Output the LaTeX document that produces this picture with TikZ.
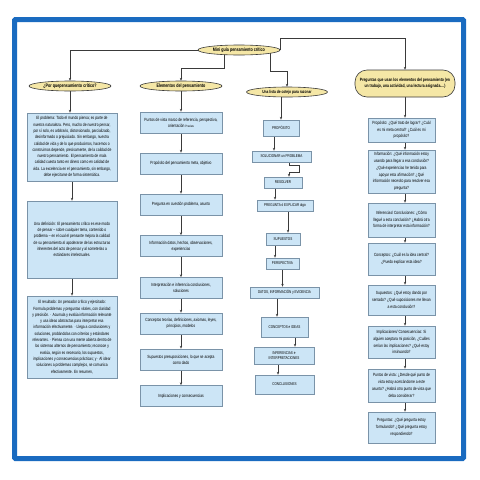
\documentclass[tikz,border=0pt]{standalone}
\usepackage{fontspec}
\setmainfont{Liberation Sans}
\newfontfamily\nar[FakeStretch=0.74]{Liberation Sans}
\usetikzlibrary{arrows.meta,backgrounds,calc,shapes.geometric}
\definecolor{framec}{HTML}{1A6BC0}
\definecolor{boxf}{HTML}{CCE5F6}
\definecolor{boxd}{HTML}{7A93A8}
\definecolor{ellf}{HTML}{F5E7A6}
\definecolor{lnc}{HTML}{3A3A3A}
\tikzset{
 box/.style={rectangle, fill=boxf, draw=boxd, line width=0.7pt, inner sep=0pt, align=center, font=\nar\fontsize{4.5}{6.3}\selectfont},
 boxq/.style={box, minimum width=67pt, font=\nar\fontsize{4.5}{6.8}\selectfont},
 boxe/.style={box, minimum width=82pt, minimum height=21pt, font=\nar\fontsize{4.5}{6.2}\selectfont},
 boxc/.style={box, font=\nar\fontsize{4.1}{5.6}\selectfont},
 ell/.style={ellipse, fill=ellf, draw=lnc, line width=0.6pt, inner xsep=-6pt, inner ysep=0pt, minimum height=10pt, align=center, font=\nar\bfseries\fontsize{5}{6}\selectfont},
 con/.style={draw=lnc, line width=0.5pt, -{Stealth[length=2.8pt,width=2.4pt]}},
}
\begin{document}
\begin{tikzpicture}[x=1pt,y=-1pt]
\useasboundingbox (0,0) rectangle (480,480);

% ellipses
\node[ell, minimum width=82pt] (main) at (239,50) {Mini guía pensamiento crítico};
\node[ell, minimum width=82pt] (e1) at (70,86) {¿Por quepensamiento crítico?};
\node[ell, minimum width=82pt] (e2) at (181,86) {Elementos del pensamiento};
\node[ell, minimum width=81pt, font=\nar\bfseries\fontsize{4.4}{5.5}\selectfont] (e3) at (287,92) {Una lista de cotejo para razonar};
\node[rectangle, rounded corners=12pt, fill=ellf, draw=lnc, line width=0.6pt, inner sep=0pt, minimum width=100pt, minimum height=27pt, align=center, font=\nar\bfseries\fontsize{4.6}{6.2}\selectfont] (e4) at (405,83.5) {Preguntas que usan los elementos del pensamiento (en\\un trabajo, una actividad, una lectura asignada....)};

% column 1
\node[box, minimum width=90pt, minimum height=68pt] (c1a) at (72,147) {El problema: Todo el mundo piensa; es parte de\\nuestra naturaleza. Pero, mucho de nuestro pensar,\\por sí solo, es arbitrario, distorsionado, parcializado,\\desinformado o prejuiciado. Sin embargo, nuestra\\calidad de vida y de lo que producimos, hacemos o\\construimos depende, precisamente, de la calidad de\\nuestro pensamiento. El pensamiento de mala\\calidad cuesta tanto en dinero como en calidad de\\vida. La excelencia en el pensamiento, sin embargo,\\debe ejercitarse de forma sistemática.};
\node[box, minimum width=90pt, minimum height=77pt] (c1b) at (72,239.5) {Una definición: El pensamiento crítico es ese modo\\de pensar – sobre cualquier tema, contenido o\\problema – en el cual el pensante mejora la calidad\\de su pensamiento al apoderarse de las estructuras\\inherentes del acto de pensar y al someterlas a\\estándares intelectuales.};
\node[box, minimum width=90pt, minimum height=82pt] (c1c) at (72,337) {El resultado: Un pensador crítico y ejercitado:\\Formula problemas y preguntas vitales, con claridad\\y precisión. · Acumula y evalúa información relevante\\y usa ideas abstractas para interpretar esa\\información efectivamente. · Llega a conclusiones y\\soluciones, probándolas con criterios y estándares\\relevantes. · Piensa con una mente abierta dentro de\\los sistemas alternos de pensamiento; reconoce y\\evalúa, según es necesario, los supuestos,\\implicaciones y consecuencias prácticas; y · Al idear\\soluciones a problemas complejos, se comunica\\efectivamente. En resumen,};

% column 2
\node[boxe] (c2a) at (181,122.5) {Puntos de vista marco de referencia, perspectiva,\\orientación {\fontsize{3.2}{4}\selectfont Preview}};
\node[boxe] (c2b) at (181,163.5) {Propósito del pensamiento meta, objetivo};
\node[boxe] (c2c) at (181,204.5) {Pregunta en cuestión problema, asunto};
\node[boxe] (c2d) at (181,246) {Información datos, hechos, observaciones,\\experiencias};
\node[boxe] (c2e) at (181,288) {Interpretación e inferencia conclusiones,\\soluciones};
\node[boxe] (c2f) at (181,323.5) {Conceptos teorías, definiciones, axiomas, leyes,\\principios, modelos};
\node[boxe] (c2g) at (181,359.5) {Supuestos presuposiciones, lo que se acepta\\como dado};
\node[boxe] (c2h) at (181,396) {Implicaciones y consecuencias};

% column 3
\node[boxc, minimum width=36pt, minimum height=16pt] (p1) at (281,128) {PROPÓSITO};
\node[boxc, minimum width=59pt, minimum height=11pt] (p2) at (281.5,156.5) {SOLUCIONAR un PROBLEMA};
\node[boxc, minimum width=38pt, minimum height=11pt] (p3) at (283,182.5) {RESOLVER};
\node[boxc, minimum width=56pt, minimum height=11pt] (p4) at (285,205.5) {PREGUNTA ó EXPLICAR algo};
\node[boxc, minimum width=34pt, minimum height=12pt] (p5) at (283,239) {SUPUESTOS};
\node[boxc, minimum width=33pt, minimum height=11pt] (p6) at (282.5,263.5) {PERSPECTIVA};
\node[boxc, minimum width=69pt, minimum height=11pt] (p7) at (284.5,292.5) {DATOS, INFORMACIÓN y EVIDENCIA};
\node[boxc, minimum width=47pt, minimum height=20pt] (p8) at (284.5,327) {CONCEPTOS e IDEAS};
\node[boxc, minimum width=60pt, minimum height=17pt] (p9) at (284,355.5) {INFERENCIAS e\\INTERPRETACIONES};
\node[boxc, minimum width=59pt, minimum height=19pt] (p10) at (284.5,384.5) {CONCLUSIONES};

% column 4
\node[boxq, minimum height=24pt] (q1) at (401.5,130) {Propósito: ¿Qué trato de lograr? ¿Cuál\\es mi meta central? ¿Cuál es mi\\propósito?};
\node[boxq, minimum height=43pt] (q2) at (401.5,171.5) {Información: ¿Qué información estoy\\usando para llegar a esa conclusión?\\¿Qué experiencias he tenido para\\apoyar esta afirmación? ¿Qué\\información necesito para resolver esa\\pregunta?};
\node[boxq, minimum height=34pt] (q3) at (401.5,220) {Inferencias/ Conclusiones: ¿Cómo\\llegué a esta conclusión? ¿Habrá otra\\forma de interpretar esta información?};
\node[boxq, minimum height=32pt] (q4) at (401.5,259) {Conceptos: ¿Cuál es la idea central?\\¿Puedo explicar esta idea?};
\node[boxq, minimum height=30pt] (q5) at (401.5,300) {Supuestos: ¿Qué estoy dando por\\sentado? ¿Qué suposiciones me llevan\\a esta conclusión?};
\node[boxq, minimum height=32pt] (q6) at (401.5,342) {Implicaciones/ Consecuencias: Si\\alguien aceptara mi posición, ¿Cuáles\\serían las implicaciones? ¿Qué estoy\\insinuando?};
\node[boxq, minimum height=33pt] (q7) at (401.5,385.5) {Puntos de vista: ¿Desde qué punto de\\vista estoy acercándome a este\\asunto? ¿Habrá otro punto de vista que\\deba considerar?};
\node[boxq, minimum height=31pt] (q8) at (401.5,427.5) {Preguntas: ¿Qué pregunta estoy\\formulando? ¿Qué pregunta estoy\\respondiendo?};

\begin{pgfonlayer}{background}
\fill[white] (0,0) rectangle (480,480);
\draw[framec, line width=5pt, rounded corners=1pt] (14.5,19.5) rectangle (463.5,458.5);
% from main
\draw[con] (main.center) -| (e1.north);
\draw[con] ([xshift=-15pt]main.center) -- ++(0,18) -| (e2.north);
\draw[con] ([xshift=31pt]main.center) -- ++(0,21) -| (e3.north);
\draw[con] (main.east) -- ++(0,-12) -| (e4.north);
% column 1
\draw[con] (e1.center) -- (e1.center |- c1a.north);
\draw[con] (c1a.south) -- (c1b.north);
\draw[con] (c1b.south) -- (c1c.north);
% column 2
\draw[con] (e2.center) -- (c2a.north);
\draw[con] (c2a.south) -- (c2b.north);
\draw[con] (c2b.south) -- (c2c.north);
\draw[con] (c2c.south) -- (c2d.north);
\draw[con] (c2d.south) -- (c2e.north);
\draw[con] (c2e.south) -- (c2f.north);
\draw[con] (c2f.south) -- (c2g.north);
\draw[con] (c2g.south) -- (c2h.north);
% column 3
\draw[con] ([xshift=-6pt]e3.center) -- ([xshift=-6pt]e3.center |- p1.north);
\draw[con] ([xshift=-7pt]p1.south) -- ([xshift=-7pt]p1.south |- p2.north);
\draw[con] ([xshift=7.5pt]p2.south) -- ++(0,2.5) -- ++(10,0) -- ++(0,7) -- ++(-10,0) -- ([xshift=7.5pt]p2.south |- p3.north);
\draw[con] ([xshift=-8pt]p3.south) -- ([xshift=-8pt]p3.south |- p4.north);
\draw[con] ([xshift=3pt]p4.south) -- ([xshift=3pt]p4.south |- p5.north);
\draw[con] ([xshift=-8pt]p5.south) -- ([xshift=-8pt]p5.south |- p6.north);
\draw[con] (p6.south) -- (p6.south |- p7.north);
\draw[con] ([xshift=-7.5pt]p7.south) -- ([xshift=-7.5pt]p7.south |- p8.north);
\draw[con] ([xshift=10.5pt]p8.south) -- ([xshift=10.5pt]p8.south |- p9.north);
\draw[con] ([xshift=-6pt]p9.south) -- ([xshift=-6pt]p9.south |- p10.north);
% column 4
\draw[con] (e4.center) -- (e4.center |- q1.north);
\draw[con] ([xshift=3.5pt]q1.south) -- ([xshift=3.5pt]q1.south |- q2.north);
\draw[con] ([xshift=3.5pt]q2.south) -- ([xshift=3.5pt]q2.south |- q3.north);
\draw[con] ([xshift=3.5pt]q3.south) -- ([xshift=3.5pt]q3.south |- q4.north);
\draw[con] ([xshift=3.5pt]q4.south) -- ([xshift=3.5pt]q4.south |- q5.north);
\draw[con] ([xshift=3.5pt]q5.south) -- ([xshift=3.5pt]q5.south |- q6.north);
\draw[con] ([xshift=3.5pt]q6.south) -- ([xshift=3.5pt]q6.south |- q7.north);
\draw[con] ([xshift=3.5pt]q7.south) -- ([xshift=3.5pt]q7.south |- q8.north);
\end{pgfonlayer}
\end{tikzpicture}
\end{document}
